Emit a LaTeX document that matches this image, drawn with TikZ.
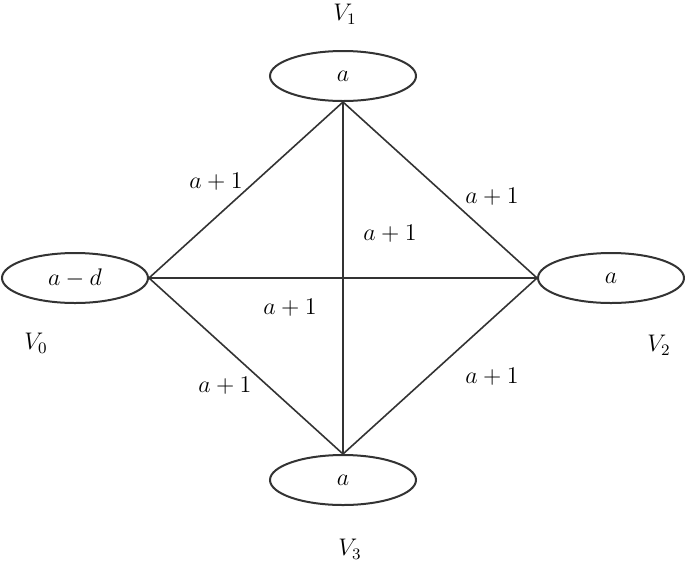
\documentclass[tikz,border=0pt]{standalone}
\usetikzlibrary{shapes.geometric}
\begin{document}
\begin{tikzpicture}[x=0.5pt,y=-0.5pt,font=\fontsize{12}{14}\selectfont,
  vert/.style={draw=black!80,line width=1pt,ellipse,minimum width=73pt,minimum height=25pt,inner sep=0pt},
  edge/.style={draw=black!80,line width=0.8pt},
  lbl/.style={inner sep=1pt}]
\useasboundingbox (0,0) rectangle (685,563);
\node[vert] (v1) at (343,76) {$a$};
\node[vert] (v0) at (75,278) {$a-d$};
\node[vert] (v2) at (611,278) {$a$};
\node[vert] (v3) at (343,480) {$a$};
\node[lbl] (n1) at (345,14) {$V_1$};
\node[lbl] (n0) at (36,343) {$V_0$};
\node[lbl] (n2) at (659,345) {$V_2$};
\node[lbl] (n3) at (350,549) {$V_3$};
\draw[edge] (v0.east) -- (v1.south);
\draw[edge] (v1.south) -- (v2.west);
\draw[edge] (v0.east) -- (v2.west);
\draw[edge] (v1.south) -- (v3.north);
\draw[edge] (v0.east) -- (v3.north);
\draw[edge] (v2.west) -- (v3.north);
\node[lbl] (e01) at (216,182) {$a+1$};
\node[lbl] (e12) at (492,197) {$a+1$};
\node[lbl] (e13) at (390,234) {$a+1$};
\node[lbl] (e02) at (290,308) {$a+1$};
\node[lbl] (e03) at (225,386) {$a+1$};
\node[lbl] (e23) at (492,377) {$a+1$};
\end{tikzpicture}
\end{document}
